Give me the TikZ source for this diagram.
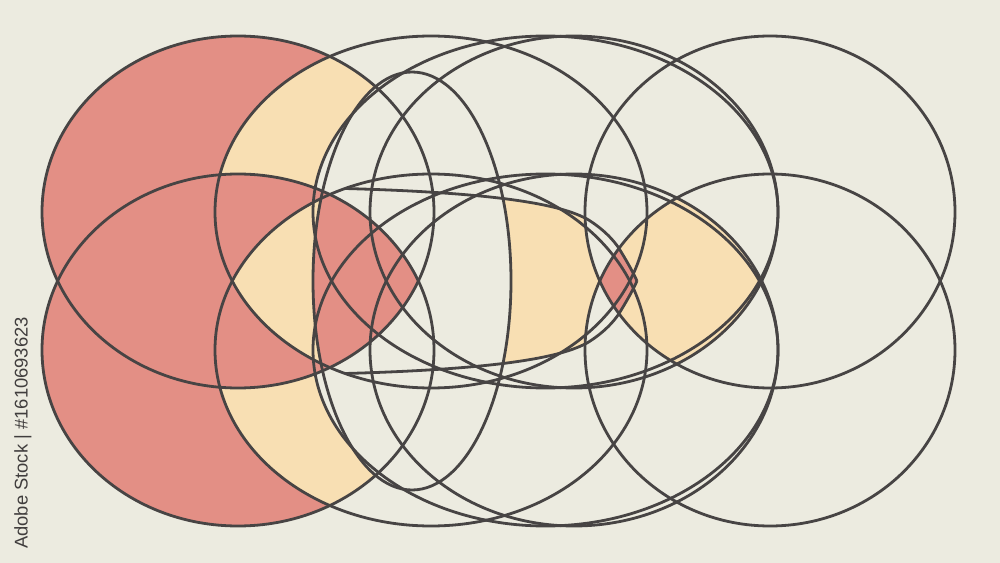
\documentclass[tikz,border=0pt]{standalone}
\usepackage{fontspec}
\setmainfont{Liberation Sans}
\definecolor{bg}{HTML}{ECEBE0}
\definecolor{rd}{HTML}{E38F85}
\definecolor{yl}{HTML}{F8DFB3}
\definecolor{ink}{HTML}{474444}
\def\shA{(238,212) ellipse [x radius=196, y radius=176]}
\def\shB{(431,212) ellipse [x radius=216, y radius=176]}
\def\shX{(545.5,212) ellipse [x radius=232.5, y radius=176]}
\def\shC{(574,212) ellipse [x radius=204, y radius=176]}
\def\shD{(770,212) ellipse [x radius=185, y radius=176]}
\def\shE{(238,350) ellipse [x radius=196, y radius=176]}
\def\shF{(431,350) ellipse [x radius=216, y radius=176]}
\def\shXb{(545.5,350) ellipse [x radius=232.5, y radius=176]}
\def\shCb{(574,350) ellipse [x radius=204, y radius=176]}
\def\shH{(770,350) ellipse [x radius=185, y radius=176]}
\def\shW{(412,281) ellipse [x radius=99, y radius=209]}
\def\arcU{(345,373.5) .. controls (400,372) and (460,369) .. (507,363) .. controls (545,358) and (570,352) .. (587,343) .. controls (602,334) and (614,322) .. (620,312) .. controls (626,302) and (632,292) .. (637,281)}
\def\arcUp{(637,281) .. controls (632,270) and (626,260) .. (620,250) .. controls (614,240) and (602,228) .. (587,219) .. controls (570,210) and (545,204) .. (507,199) .. controls (460,193) and (400,190) .. (345,188.5)}
\def\shS{\arcU -- \arcUp -- cycle}
\def\bigbox{(-20,-20) rectangle (1020,583)}
\begin{document}
\begin{tikzpicture}[x=0.75pt,y=-0.75pt,
  outline/.style={draw=ink,line width=2.1pt,line join=round}]
\useasboundingbox (0,0) rectangle (1000,563);
\fill[bg] (0,0) rectangle (1000,563);
% red base
\fill[rd] \shA; \fill[rd] \shE;
% yellow crescents
\begin{scope}[even odd rule]
  \clip \shA; \clip \shB;
  \clip \bigbox \shE;
  \clip \bigbox \shW;
  \clip \bigbox \shX;
  \fill[yl] \bigbox;
\end{scope}
\begin{scope}[even odd rule]
  \clip \shE; \clip \shF;
  \clip \bigbox \shA;
  \clip \bigbox \shW;
  \clip \bigbox \shXb;
  \fill[yl] \bigbox;
\end{scope}
\begin{scope}[even odd rule]
  \clip \shB; \clip \shF;
  \clip \bigbox \shW;
  \fill[yl] \shA; \fill[yl] \shE;
\end{scope}
% uncoloured parts inside W and X
\begin{scope}[even odd rule]
  \clip \shA; \clip \bigbox \shE;
  \fill[bg] \shW; \fill[bg] \shX; \fill[bg] \shXb;
\end{scope}
\begin{scope}[even odd rule]
  \clip \shE; \clip \bigbox \shA;
  \fill[bg] \shW; \fill[bg] \shX; \fill[bg] \shXb;
\end{scope}
% middle yellow lens
\begin{scope}[even odd rule]
  \clip \shS;
  \clip \bigbox \shD;
  \clip \bigbox \shH;
  \clip \bigbox \shW;
  \fill[yl] \bigbox;
\end{scope}
% red diamond
\begin{scope}
  \clip \shS; \clip \shD;
  \fill[rd] \shH;
\end{scope}
% right yellow lens
\begin{scope}[even odd rule]
  \clip \shD; \clip \shH; \clip \shC;
  \clip \bigbox \shS;
  \fill[yl] \shCb;
\end{scope}
% outlines
\foreach \s in {\shA,\shB,\shX,\shC,\shD,\shE,\shF,\shXb,\shCb,\shH,\shW}{
  \draw[outline] \s;
}
\draw[outline] \arcU;
\draw[outline] \arcUp;
\node[rotate=90,text=ink!90!black,font=\fontsize{13.8}{14}\selectfont] (wm) at (23,433) {Adobe Stock | \#1610693623};
\end{tikzpicture}
\end{document}
